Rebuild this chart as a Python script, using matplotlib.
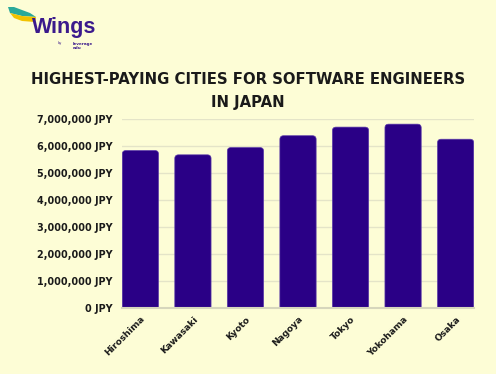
import matplotlib.pyplot as plt
from matplotlib.patches import FancyBboxPatch, Polygon
from matplotlib.ticker import FuncFormatter

cities = ["Hiroshima", "Kawasaki", "Kyoto", "Nagoya", "Tokyo", "Yokohama", "Osaka"]
salaries = [5840000, 5680000, 5950000, 6390000, 6710000, 6820000, 6260000]
yticks = [0, 1000000, 2000000, 3000000, 4000000, 5000000, 6000000, 7000000]

bg = "#fdfdd6"
bar_color = "#2a0086"

W, H = 496, 374
fig = plt.figure(figsize=(4.96, 3.74), dpi=100, facecolor=bg)
ax = fig.add_axes([122 / W, 1 - 307.7 / H, (474 - 122) / W, (307.7 - 119.3) / H])
ax.set_facecolor(bg)

bars = ax.bar(range(len(cities)), salaries, width=0.69, color=bar_color, zorder=3)
for b in bars:
    b.set_visible(False)
    rp = FancyBboxPatch((b.get_x(), -400000), b.get_width(), b.get_height() + 400000,
                        boxstyle="round,pad=0,rounding_size=0.07",
                        mutation_aspect=1900000,
                        fc=bar_color, ec="#5a3aa8", lw=0.5, zorder=3)
    ax.add_patch(rp)

ax.set_xlim(-0.35, 6.35)
ax.set_ylim(0, 7000000)
ax.set_yticks(yticks)
ax.yaxis.set_major_formatter(FuncFormatter(lambda v, p: f"{int(v):,} JPY"))
ax.grid(axis="y", color="#e4e4c8", lw=1, zorder=0)
for s in ["left", "right", "top"]:
    ax.spines[s].set_visible(False)
ax.spines["bottom"].set_color("#d6d6bc")
ax.spines["bottom"].set_linewidth(1.5)
ax.spines["bottom"].set_zorder(4)
ax.tick_params(length=0)
ax.tick_params(axis="y", pad=6.5)
ax.tick_params(axis="x", pad=5)
ax.set_xticks(range(len(cities)))
ax.set_xticklabels(cities, rotation=45, ha="right", rotation_mode="anchor")
for lab in ax.get_yticklabels():
    lab.set_fontweight("bold")
    lab.set_fontsize(6.9)
    lab.set_color("#1a1a1a")
for lab in ax.get_xticklabels():
    lab.set_fontweight("bold")
    lab.set_fontsize(6.6)
    lab.set_color("#1a1a1a")

fig.text(0.5, 1 - 80 / H, "HIGHEST-PAYING CITIES FOR SOFTWARE ENGINEERS",
         ha="center", va="center", fontsize=10.7, fontweight="bold", color="#1a1a1a")
fig.text(0.5, 1 - 103 / H, "IN JAPAN",
         ha="center", va="center", fontsize=10.7, fontweight="bold", color="#1a1a1a")

# logo
teal = Polygon([(8 / W, 1 - 7 / H), (14 / W, 1 - 7 / H), (30 / W, 1 - 13 / H),
                (36 / W, 1 - 17 / H), (22 / W, 1 - 16 / H), (10 / W, 1 - 13 / H)],
               closed=True, transform=fig.transFigure, fc="#2aa99a", ec="none")
yellow = Polygon([(10 / W, 1 - 13 / H), (22 / W, 1 - 16 / H), (36 / W, 1 - 17 / H),
                  (35 / W, 1 - 22 / H), (22 / W, 1 - 21 / H), (14 / W, 1 - 18 / H)],
                 closed=True, transform=fig.transFigure, fc="#f2c200", ec="none")
fig.patches.extend([teal, yellow])
fig.text(32 / W, 1 - 28 / H, "Wings", ha="left", va="center", family="Liberation Sans",
         fontsize=15.5, fontweight="bold", color="#3b1a8c")
fig.text(73 / W, 1 - 46 / H, "leverage\nedu", ha="left", va="center",
         fontsize=3, fontweight="bold", color="#3b1a8c", linespacing=0.9)
fig.text(58 / W, 1 - 43 / H, "by", ha="left", va="center",
         fontsize=2.5, color="#3b1a8c")

fig.savefig("out.png", dpi=100, facecolor=bg)
